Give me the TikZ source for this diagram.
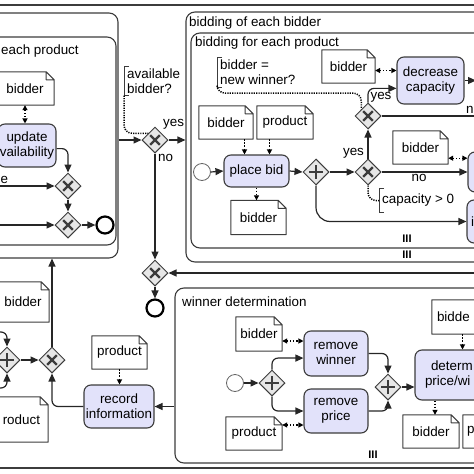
\documentclass[tikz,border=0pt]{standalone}
\usepackage{fontspec}
\setmainfont{Liberation Sans}
\usetikzlibrary{arrows.meta,shapes.geometric,positioning}
\definecolor{taskfill}{RGB}{226,226,250}
\definecolor{gatefill}{RGB}{230,230,230}
\definecolor{edgegray}{RGB}{60,60,60}

\begin{document}
\begin{tikzpicture}[x=1pt, y=-1pt,
    every node/.style={font=\fontsize{13.4}{15}\selectfont},
    subproc/.style={draw=edgegray, rounded corners=9pt, line width=1.1pt, inner sep=0pt},
    task/.style={draw=edgegray, fill=taskfill, rounded corners=7pt, line width=1.1pt, align=center, inner sep=1pt},
    dataobj/.style={inner sep=2pt, align=center},
    dataline/.style={draw=edgegray, line width=1pt, line join=round},
    gate/.style={diamond, draw=edgegray, fill=gatefill, minimum size=26pt, inner sep=0pt, line width=1pt},
    xgate/.style={gate, path picture={\draw[line width=2.4pt] (path picture bounding box.center) ++(-4.8pt,-4.8pt) -- ++(9.6pt,9.6pt) ++(-9.6pt,0pt) -- ++(9.6pt,-9.6pt);}},
    pgate/.style={gate, path picture={\draw[line width=2.2pt] (path picture bounding box.center) ++(-7pt,0pt) -- ++(14pt,0pt) ++(-7pt,-7pt) -- ++(0pt,14pt);}},
    startev/.style={circle, draw=black!60, fill=white, minimum size=17pt, inner sep=0pt, line width=0.8pt},
    endev/.style={circle, draw=black, fill=white, minimum size=17pt, inner sep=0pt, line width=2.2pt},
    flow/.style={draw=black!85, line width=1.2pt, -{Triangle[length=8pt,width=7pt]}, rounded corners=6pt},
    assoc/.style={line width=1.1pt, dash pattern=on 1.3pt off 1.8pt, {Triangle[length=5pt,width=5pt]}-{Triangle[length=5pt,width=5pt]}},
    assocout/.style={line width=1.1pt, dash pattern=on 1.3pt off 1.8pt, -{Triangle[length=5pt,width=5pt]}},
    annot/.style={anchor=west, align=left, inner xsep=3pt, inner ysep=2pt},
    annline/.style={draw=edgegray, line width=0.9pt},
    annlink/.style={line width=1.5pt, dash pattern=on 1.2pt off 1.2pt, rounded corners=8pt},
    title/.style={anchor=west, inner sep=0pt},
    lbl/.style={inner sep=0pt},
    marker/.style={font=\fontsize{11}{11}\selectfont\bfseries, inner sep=0pt}]

    \useasboundingbox (0,0) rectangle (474,474);

    % ---------------- Containers ----------------
    \node[subproc, rounded corners=0pt, minimum width=504pt, minimum height=463pt] (pool) at (237,236.5) {};
    \node[subproc, minimum width=148pt, minimum height=245pt] (lOuter) at (44,135.5) {};
    \node[subproc, minimum width=146pt, minimum height=208pt] (lInner) at (43,141) {};
    \node[subproc, minimum width=442pt, minimum height=250pt] (bOuter) at (407,137) {};
    \node[subproc, minimum width=432pt, minimum height=215pt] (bInner) at (407,140.5) {};
    \node[subproc, minimum width=396pt, minimum height=175pt] (wdBox) at (373,375.5) {};

    \node[title] (tiL) at (1,51) {each product};
    \node[title] (tiBO) at (189,23) {bidding of each bidder};
    \node[title] (tiBI) at (195,43) {bidding for each product};
    \node[title] (tiWD) at (182,302) {winner determination};

    \node[marker] (mBI) at (407,239) {III};
    \node[marker] (mBO) at (407,255) {III};
    \node[marker] (mWD) at (373,455) {III};

    % ---------------- Tasks ----------------
    \node[task, minimum width=58pt, minimum height=43pt] (tUpd) at (27,145.5) {update\\vailability};
    \node[task, minimum width=67pt, minimum height=47pt] (tDec) at (430.5,80.5) {decrease\\capacity};
    \node[task, minimum width=65pt, minimum height=32pt] (tBid) at (256.5,171) {place bid};
    \node[task, minimum width=72pt, minimum height=40pt] (tR1) at (504,172) {};
    \node[task, minimum height=43pt, text width=65pt, inner xsep=4pt, align=left] (tR2) at (503.5,221.5) {i};
    \node[task, minimum width=70pt, minimum height=43pt] (tRec) at (119,406.5) {record\\information};
    \node[task, minimum width=64pt, minimum height=45pt] (tRW) at (336,353.5) {remove\\winner};
    \node[task, minimum width=64pt, minimum height=44pt] (tRP) at (336,411) {remove\\price};
    \node[task, minimum height=50pt, text width=105pt, inner xsep=10pt, align=left] (tDet) at (477.5,375) {\hspace*{6pt}determ\\price/wi};

    % ---------------- Events ----------------
    \node[startev] (sBid) at (202,172) {};
    \node[startev] (sWD) at (235,383) {};
    \node[endev] (eL) at (105,225) {};
    \node[endev] (eTop) at (155,308) {};

    % ---------------- Gateways ----------------
    \node[xgate] (gX1) at (68,186) {};
    \node[xgate] (gX2) at (68,225) {};
    \node[xgate] (gX3) at (155,140) {};
    \node[xgate] (gX4) at (155,273) {};
    \node[xgate] (gX5) at (368,116) {};
    \node[xgate] (gX6) at (368,172) {};
    \node[xgate] (gX7) at (52,360) {};
    \node[pgate] (gP1) at (316,172) {};
    \node[pgate] (gP2) at (7,360) {};
    \node[pgate] (gP3) at (272,383) {};
    \node[pgate] (gP4) at (388,387) {};

    % ---------------- Data objects ----------------
    \node[dataobj, minimum width=58pt, minimum height=33pt] (dL1) at (25,88.5) {bidder};
    \node[dataobj, minimum width=53pt, minimum height=33pt] (dB2) at (348.5,66.5) {bidder};
    \node[dataobj, minimum width=54pt, minimum height=33pt] (dB3) at (226,122.5) {bidder};
    \node[dataobj, minimum width=56pt, minimum height=33pt] (dP3) at (285,122.5) {product};
    \node[dataobj, minimum width=55pt, minimum height=34pt] (dB4) at (258.5,217.5) {bidder};
    \node[dataobj, minimum width=55pt, minimum height=33pt] (dB5) at (420.5,147.5) {bidder};
    \node[dataobj, minimum width=46pt, minimum height=34pt] (dB6) at (259,334) {bidder};
    \node[dataobj, minimum width=56pt, minimum height=33pt] (dP6) at (254,433.5) {product};
    \node[dataobj, minimum height=34pt, text width=60pt, inner xsep=4pt, align=left] (dB7) at (466,317) {\hspace*{1pt}bidde};
    \node[dataobj, minimum width=56pt, minimum height=33pt] (dB8) at (431,431.5) {bidder};
    \node[dataobj, minimum height=33pt, text width=49pt, inner xsep=4pt, align=left] (dP8) at (491.5,431.5) {p};
    \node[dataobj, minimum width=52pt, minimum height=40pt] (dB9) at (23,302) {bidder};
    \node[dataobj, minimum height=45pt, text width=50pt, inner xsep=8pt, align=right] (dP9) at (15,419.5) {roduct};
    \node[dataobj, minimum width=55pt, minimum height=33pt] (dP10) at (119.5,352.5) {product};

    \foreach \d in {dL1,dB2,dB3,dP3,dB4,dB5,dB6,dP6,dB7,dB8,dP8,dB9,dP9,dP10} {
        \draw[dataline] (\d.north west) -- ([xshift=-8pt]\d.north east) -- ([yshift=-8pt]\d.north east)
            -- (\d.south east) -- (\d.south west) -- cycle
            ([xshift=-8pt]\d.north east) |- ([yshift=-8pt]\d.north east);
    }

    % ---------------- Annotations ----------------
    \node[annot] (aAvail) at (124,81) {available\\bidder?};
    \node[annot] (aWin) at (217,72.5) {bidder =\\new winner?};
    \node[annot, minimum height=23pt] (aCap) at (379,200.5) {capacity > 0};
    \foreach \a in {aAvail,aWin,aCap} {
        \draw[annline] ([xshift=5pt]\a.north west) -- (\a.north west) -- (\a.south west) -- ([xshift=5pt]\a.south west);
    }

    % ---------------- Labels ----------------
    \node[lbl, anchor=west] (lX3y) at (163,124) {yes};
    \node[lbl, anchor=west] (lX3n) at (158,158) {no};
    \node[lbl] (lX5y) at (381,97) {yes};
    \node[lbl] (lX6y) at (353.5,153) {yes};
    \node[lbl] (lX6n) at (419,177.5) {no};
    \node[lbl, anchor=west] (lX5n) at (466,110) {n};
    \node[lbl, anchor=west] (lFrag) at (0.5,180) {e};

    % ---------------- Free ends ----------------
    \coordinate (cIn1) at (-5,186);
    \coordinate (cIn2) at (-5,225);
    \coordinate (cIn3) at (480,273);
    \coordinate (cOut1) at (490,116);
    \coordinate (cOut2) at (476,80.5);
    \coordinate (cP2a) at (-5,332);
    \coordinate (cP2b) at (-5,388);

    % ---------------- Sequence flows ----------------
    \draw[flow] (tUpd.-6) -| (gX1.north);
    \draw[flow] (cIn1) -- (gX1.west);
    \draw[flow] (gX1.south) -- (gX2.north);
    \draw[flow] (cIn2) -- (gX2.west);
    \draw[flow] (gX2.east) -- (eL.west);
    \draw[flow] (gX3.west -| lOuter.east) -- (gX3.west);
    \draw[flow] (gX3.east) -- (gX3.east -| bOuter.west);
    \draw[flow] (gX3.south) -- (gX4.north);
    \draw[flow] (cIn3) -- (gX4.east);
    \draw[flow] (gX4.south) -- (eTop.north);
    \draw[flow] (sBid.east) -- (tBid.west);
    \draw[flow] (tBid.east) -- (gP1.west);
    \draw[flow] (gP1.east) -- (gX6.west);
    \draw[flow] (gX6.east) -- (gX6.east -| tR1.west);
    \draw[flow] (gX6.north) -- (gX5.south);
    \draw[flow] (gX5.north) |- (tDec.193);
    \draw[flow, -] (gX5.east) -- (cOut1);
    \draw[flow] (tDec.east) -- (cOut2);
    \draw[flow, rounded corners=14pt] (gP1.south) |- (tR2.west);
    \draw[flow] (sWD.east) -- (gP3.west);
    \draw[flow] (gP3.north) |- (tRW.188);
    \draw[flow] (gP3.south) |- (tRP.west);
    \draw[flow] (tRW.east) -| (gP4.north);
    \draw[flow] (tRP.east) -| (gP4.south);
    \draw[flow] (gP4.east) -- (gP4.east -| tDet.west);
    \draw[flow] (tRec.east -| wdBox.west) -- (tRec.east);
    \draw[flow] (tRec.west) -| (gX7.south);
    \draw[flow] (gX7.north) -- (gX7.north |- lOuter.south);
    \draw[flow] (gP2.east) -- (gX7.west);
    \draw[flow] (cP2a) -| (gP2.north);
    \draw[flow] (cP2b) -| (gP2.south);

    % ---------------- Data associations ----------------
    \coordinate (cB2) at ([yshift=-4pt]dB2.east);
    \coordinate (cBidA) at ([xshift=-12pt]tBid.north);
    \coordinate (cBidB) at ([xshift=13pt]tBid.north);
    \coordinate (cB5) at ([yshift=6pt]dB5.south east);
    \coordinate (cB6) at ([yshift=-7pt]dB6.east);
    \coordinate (cP6) at ([yshift=8.5pt]dP6.east);
    \coordinate (cDetA) at ([xshift=-15pt]tDet.north);
    \coordinate (cDetB) at ([xshift=-42.5pt]tDet.south);
    \draw[assoc] (dL1.south) -- (dL1.south |- tUpd.north);
    \draw[assoc] (cB2) -- (cB2 -| tDec.west);
    \draw[assocout] (cBidA |- dB3.south) -- (cBidA);
    \draw[assocout] (cBidB |- dP3.south) -- (cBidB);
    \draw[assocout] (tBid.south) -- (tBid.south |- dB4.north);
    \draw[assoc] (cB5) -- (cB5 -| tR1.west);
    \draw[assoc] (cB6) -- (cB6 -| tRW.west);
    \draw[assoc] (cP6) -- (cP6 -| tRP.west);
    \draw[assocout] (cDetA |- dB7.south) -- (cDetA);
    \draw[assocout] (cDetB) -- (cDetB |- dB8.north);
    \draw[assocout] (dP10.south) -- (dP10.south |- tRec.north);

    % ---------------- Annotation links ----------------
    \draw[annlink] (aAvail.south west) |- (gX3.north west);
    \draw[annlink] (aWin.south west) -- ++(0pt,-6pt) -| (gX5.north west);
    \draw[annlink] (gX6.south) |- (aCap.west);

\end{tikzpicture}
\end{document}
